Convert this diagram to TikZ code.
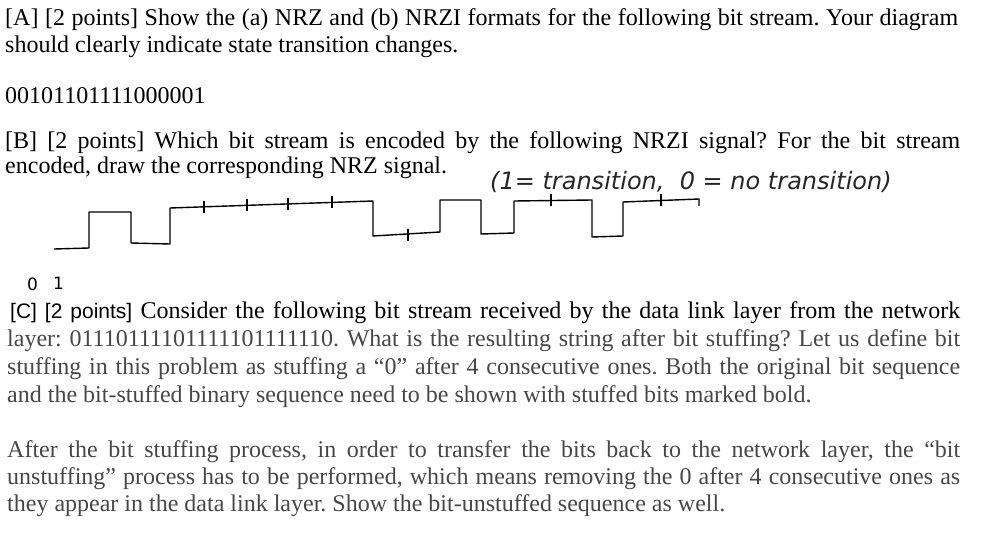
\documentclass[tikz,border=0pt]{standalone}
\usepackage{fontspec}
\setmainfont{Liberation Serif}
\newfontfamily\hand{DejaVu Sans}
\newfontfamily\csans{Liberation Sans}
\frenchspacing
\begin{document}
\begin{tikzpicture}[x=1pt,y=-1pt,
  txt/.style={anchor=west,inner sep=0pt,font=\fontsize{24}{26}\selectfont},
  gtxt/.style={txt,text=black!72},
  wave/.style={line width=1.4pt,line join=round}]
\useasboundingbox (0,0) rectangle (986,536);
\newcommand\jl[2]{\hbox to #1{#2}}
\node[txt] (l1) at (5,20) {\jl{953pt}{[A] [2 points] Show the (a) NRZ and (b) NRZI formats for the following bit stream. Your diagram}};
\node[txt] (l2) at (5,47) {should clearly indicate state transition changes.};
\node[txt] (l3) at (5,96) {00101101111000001};
\node[txt] (l4) at (5,143) {\jl{955pt}{[B] [2 points] Which bit stream is encoded by the following NRZI signal? For the bit stream}};
\node[txt] (l5) at (5,168) {encoded, draw the corresponding NRZ signal.};
\node[txt,font=\hand\fontsize{24}{26}\selectfont\itshape,text=black!85] (h) at (490,182) {(1= transition, \ 0 = no transition)};
\node[txt,font=\hand\fontsize{17}{19}\selectfont] (z) at (27,284) {0};
\node[txt,font=\hand\fontsize{17}{19}\selectfont] (o) at (53,283) {1};
\node[txt] (l7) at (10,313) {\jl{950pt}{{\csans\fontsize{21}{24}\selectfont [C] [2 points]} Consider the following bit stream received by the data link layer from the network}};
\node[gtxt] (l8) at (7,341) {\jl{953pt}{layer: 01110111101111101111110. What is the resulting string after bit stuffing? Let us define bit}};
\node[gtxt] (l9) at (7,369) {\jl{953pt}{stuffing in this problem as stuffing a “0” after 4 consecutive ones. Both the original bit sequence}};
\node[gtxt] (l10) at (7,397) {and the bit-stuffed binary sequence need to be shown with stuffed bits marked bold.};
\node[gtxt] (l11) at (7,452) {\jl{953pt}{After the bit stuffing process, in order to transfer the bits back to the network layer, the “bit}};
\node[gtxt] (l12) at (7,479) {\jl{953pt}{unstuffing” process has to be performed, which means removing the 0 after 4 consecutive ones as}};
\node[gtxt] (l13) at (7,506) {they appear in the data link layer. Show the bit-unstuffed sequence as well.};
% waveform
\draw[wave] (54,249) -- (89,248) -- (89,212) -- (131,212) -- (131,243) -- (170,244) -- (170,208)
  -- (373,201) -- (373,236) -- (440,232) -- (440,200) -- (481,200) -- (481,234) -- (514,233)
  -- (514,201) -- (592,200) -- (592,237) -- (623,236) -- (623,202) -- (699,199) -- (699,206);
\foreach \x/\y in {204/207,247/205,288/204,332/202,408/235,551/200,661/200}
  \draw[line width=1.2pt] (\x,\y-6) -- (\x,\y+6);
\end{tikzpicture}
\end{document}
